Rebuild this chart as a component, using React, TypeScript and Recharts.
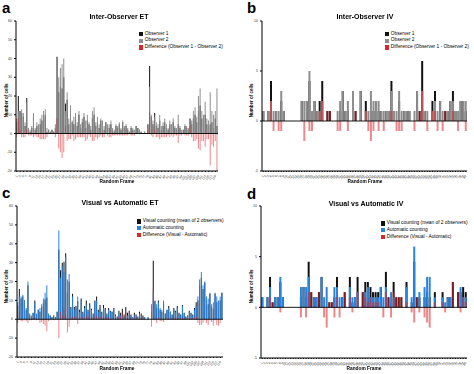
import { BarChart, Bar, XAxis, YAxis, ReferenceLine } from 'recharts'
import type { ReactNode } from 'react'

// ET panels: 120 random frames, IV panels: 80 random frames
const ET_FRAMES = Array.from({ length: 120 }, (_, i) => String(i + 1))
const IV_FRAMES = Array.from({ length: 80 }, (_, i) => String(i + 1))

const ET_TICKS = [-20, -10, 0, 10, 20, 30, 40, 50, 60]
const IV_TICKS = [-5, 0, 5, 10]

// a — Inter-Observer ET
const ET_OBS1 = [
  6, 20, 12, 11, 9, 4, 19, 2, 1, 3, 9, 2, 4, 3, 5, 7, 9, 10, 1, 2,
  1, 2, 1, 3, 41, 22, 25, 24, 30, 16, 18, 5, 12, 6, 5, 8, 4, 10, 3, 6,
  9, 3, 7, 5, 2, 8, 10, 4, 6, 3, 7, 5, 2, 6, 4, 3, 5, 2, 1, 4,
  3, 5, 2, 6, 3, 4, 2, 1, 3, 2, 1, 4, 3, 2, 1, 0, 1, 0, 5, 36,
  9, 5, 11, 4, 3, 7, 2, 4, 6, 3, 2, 5, 4, 6, 3, 2, 5, 3, 1, 2,
  4, 3, 2, 8, 5, 8, 10, 6, 12, 15, 8, 6, 10, 5, 4, 5, 6, 3, 8, 4,
]
const ET_OBS2 = [
  8, 12, 10, 13, 11, 6, 17, 3, 2, 4, 11, 3, 6, 5, 8, 10, 12, 13, 3, 2,
  1, 2, 1, 5, 33, 30, 35, 37, 40, 12, 22, 8, 15, 7, 9, 11, 6, 12, 5, 8,
  11, 7, 10, 6, 4, 12, 14, 6, 9, 5, 8, 7, 4, 6, 5, 5, 7, 3, 2, 5,
  4, 6, 3, 7, 4, 5, 3, 1, 4, 3, 2, 4, 3, 2, 1, 0, 1, 0, 3, 25,
  10, 7, 9, 6, 5, 10, 4, 6, 8, 5, 3, 7, 5, 8, 4, 3, 10, 4, 2, 2,
  5, 4, 3, 4, 7, 12, 14, 9, 20, 24, 12, 10, 17, 8, 7, 22, 12, 10, 12, 24,
]
const ET_DIFF = [
  -2, 8, 2, -2, -2, -2, 2, -1, -1, -1, -2, -1, -2, -2, -3, -3, -3, -3, -2, 0,
  0, 0, 0, -2, 8, -8, -10, -13, -10, 4, -4, -3, -3, -1, -4, -3, -2, -2, -2, -2,
  -2, -4, -3, -1, -2, -4, -4, -2, -3, -2, -1, -2, -2, 0, -1, -2, -2, -1, -1, -1,
  -1, -1, -1, -1, -1, -1, -1, 0, -1, -1, -1, 0, 0, 0, 0, 0, 0, 0, 2, 11,
  -1, -2, 2, -2, -2, -3, -2, -2, -2, -2, -1, -2, -1, -2, -1, -1, -5, -1, -1, 0,
  -1, -1, -1, 4, -2, -4, -4, -3, -8, -9, -4, -4, -7, -3, -3, -17, -6, -7, -4, -20,
]

// b — Inter-Observer IV
const IV_OBS1 = [
  1, 0, 1, 4, 0, 1, 0, 2, 1, 0, 0, 0, 0, 0, 0, 2, 0, 2, 4, 0,
  2, 1, 2, 4, 0, 1, 1, 0, 0, 0, 1, 3, 1, 1, 0, 3, 1, 0, 3, 0,
  2, 0, 1, 1, 2, 1, 1, 0, 1, 1, 4, 1, 0, 2, 0, 1, 1, 1, 0, 0,
  3, 1, 6, 1, 0, 0, 2, 3, 0, 2, 0, 1, 1, 2, 3, 1, 0, 2, 2, 1,
]
const IV_OBS2 = [
  1, 0, 1, 2, 1, 1, 1, 3, 1, 0, 0, 0, 0, 0, 0, 2, 2, 2, 5, 1,
  2, 1, 1, 2, 0, 0, 0, 0, 0, 1, 2, 3, 1, 2, 0, 3, 0, 0, 3, 0,
  1, 1, 3, 2, 2, 2, 1, 1, 1, 1, 3, 1, 1, 3, 1, 1, 1, 1, 0, 1,
  3, 0, 3, 1, 1, 0, 1, 2, 1, 2, 1, 0, 1, 2, 2, 1, 1, 2, 2, 2,
]
const IV_DIFF = [
  0, 0, 0, 2, -1, 0, -1, -1, 0, 0, 0, 0, 0, 0, 0, 0, -2, 0, -1, -1,
  0, 0, 1, 2, 0, 1, 1, 0, 0, -1, -1, 0, 0, -1, 0, 0, 1, 0, 0, 0,
  1, -1, -2, -1, 0, -1, 0, -1, 0, 0, 1, 0, -1, -1, -1, 0, 0, 0, 0, -1,
  0, 1, 3, 0, -1, 0, 1, 1, -1, 0, -1, 1, 0, 0, 1, 0, -1, 0, 0, -1,
]

// c — Visual vs Automatic ET
const ET_VISUAL = [
  7, 16, 11, 12, 10, 5, 18, 2.5, 1.5, 3.5, 10, 2.5, 5, 4, 6.5, 8.5, 10.5, 11.5, 2, 2,
  1, 2, 1, 4, 37, 26, 30, 30.5, 35, 14, 20, 6.5, 13.5, 6.5, 7, 9.5, 5, 11, 4, 7,
  10, 5, 8.5, 5.5, 3, 10, 12, 5, 7.5, 4, 7.5, 6, 3, 6, 4.5, 4, 6, 2.5, 1.5, 4.5,
  3.5, 5.5, 2.5, 6.5, 3.5, 4.5, 2.5, 1, 3.5, 2.5, 1.5, 4, 3, 2, 1, 0, 1, 0, 4, 31,
  9.5, 6, 10, 5, 4, 8.5, 3, 5, 7, 4, 2.5, 6, 4.5, 7, 3.5, 2.5, 7.5, 3.5, 1.5, 2,
  4.5, 3.5, 2.5, 6, 9, 10, 18, 22, 16, 19.5, 10, 8, 13.5, 6.5, 5.5, 13.5, 9, 6.5, 10, 14,
]
const ET_AUTO = [
  9, 12, 12, 13, 10, 6, 20, 3, 2, 3, 9, 3, 5, 6, 8, 11, 14, 18, 3, 2,
  1, 2, 1, 4, 47, 22, 28, 25, 33, 21, 24, 6, 12, 5, 6, 12, 4, 10, 3, 6,
  8, 4, 7, 5, 2, 9, 10, 4, 6, 3, 6, 5, 2, 5, 4, 4, 6, 2, 1, 3,
  2, 2, 1, 2, 2, 3, 2, 1, 2, 2, 1, 3, 2, 1, 1, 0, 1, 0, 8, 14,
  10, 8, 9, 6, 5, 10, 3, 5, 6, 4, 2, 5, 4, 6, 3, 2, 7, 3, 1, 2,
  4, 3, 2, 5, 7, 12, 21, 25, 18, 20, 12, 11, 14, 8, 9, 14, 12, 10, 12, 14,
]
const ET_VDIFF = [
  -2, 4, -1, -1, 0, -1, -2, -0.5, -0.5, 0.5, 1, -0.5, 0, -2, -1.5, -2.5, -3.5, -6.5, -1, 0,
  0, 0, 0, 0, -10, 4, 2, 5.5, 2, -7, -4, 0.5, 1.5, 1.5, 1, -2.5, 1, 1, 1, 1,
  2, 1, 1.5, 0.5, 1, 1, 2, 1, 1.5, 1, 1.5, 1, 1, 1, 0.5, 0, 0, 0.5, 0.5, 1.5,
  1.5, 3.5, 1.5, 4.5, 1.5, 1.5, 0.5, 0, 1.5, 0.5, 0.5, 1, 1, 1, 0, 0, 0, 0, -4, 17,
  -0.5, -2, 1, -1, -1, -1.5, 0, 0, 1, 0, 0.5, 1, 0.5, 1, 0.5, 0.5, 0.5, 0.5, 0.5, 0,
  0.5, 0.5, 0.5, 1, 2, -2, -3, -3, -2, -0.5, -2, -3, -0.5, -1.5, -3.5, -0.5, -3, -3.5, -2, 0,
]

// d — Visual vs Automatic IV
const IV_VISUAL = [
  1, 0, 1, 3, 0.5, 1, 1, 2.5, 1, 0, 0, 0, 0, 0, 0, 1, 2, 1, 4.5, 1.5,
  1, 1, 1.5, 3, 0, 0, 0.5, 0.5, 1, 3, 0, 1, 1.5, 0, 3, 0.5, 1, 3, 0, 1.5,
  2.5, 2.5, 2, 1.5, 1.5, 1.5, 2, 0, 3.5, 1, 0.5, 2.5, 1, 1, 1, 0, 2.5, 0, 0.5, 4.5,
  1, 1, 0, 1, 1.5, 1, 0, 1.5, 0, 0, 1.5, 0, 1, 1, 2.5, 0, 1.5, 1.5, 2, 1.5,
]
const IV_AUTO = [
  1, 0, 1, 2, 0, 1, 1, 3, 1, 0, 0, 0, 0, 0, 0, 2, 2, 2, 3, 0,
  1, 1, 0, 3, 1, 2, 0, 0, 2, 2, 1, 1, 0, 0, 2, 1, 1, 1.5, 0, 0,
  1.5, 2, 1, 1, 1, 1, 2, 1, 2, 0, 1.5, 1, 0, 0, 0, 0, 2, 0, 1, 6,
  0, 1.5, 0, 2, 3, 3, 0, 1, 0, 0, 1, 0.5, 1, 1, 0, 0, 0, 2, 1, 1,
]
const IV_VDIFF = [
  0, 0, 0, 1, 0.5, 0, 0, -0.5, 0, 0, 0, 0, 0, 0, 0, -1, 0, -1, 1.5, 1.5,
  0, 0, 1.5, 0, -1, -2, 0.5, 0.5, -1, 1, -1, 0, 1.5, 0, 1, -0.5, 0, 1.5, 0, 1.5,
  1, 0.5, 1, 0.5, 0.5, 0.5, 0, -1, 1.5, 1, -1, 1.5, 1, 1, 1, 0, 0.5, 0, -0.5, -1.5,
  1, -0.5, 0, -1, -1.5, -2, 0, 0.5, 0, 0, 0.5, -0.5, 0, 0, 2.5, 0, 1.5, -0.5, 1, 0.5,
]

const BLACK = '#111111'
const GREY = '#8e8e8e'
const RED = '#d8262b'
const BLUE = '#2a84e0'
const FONT = '"Liberation Sans", Arial, sans-serif'

// slanted frame numbers under the x axis
function FrameTick({ x, y, payload }: { x?: number; y?: number; payload?: { value: string } }) {
  const tx = x ?? 0
  const ty = (y ?? 0) + 1.5
  return (
    <text x={tx} y={ty} transform={`rotate(-60 ${tx} ${ty})`} fontSize={3.2} textAnchor="end"
      dominantBaseline="middle" fill="#222" fontFamily={FONT}>
      {payload?.value}
    </text>
  )
}

interface PanelProps {
  frames: string[]
  back: number[]
  front: number[]
  diff: number[]
  backColor: string
  frontColor: string
  domain: [number, number]
  ticks: number[]
  plot: { x: number; y: number; w: number; h: number }
  tickInterval: number
  gap: string
}

function Panel({ frames, back, front, diff, backColor, frontColor, domain, ticks, plot, tickInterval, gap }: PanelProps) {
  const data = frames.map((f, i) => ({ frame: f, back: back[i], front: front[i], diff: diff[i] }))
  const YW = 12
  const XH = 12
  const TOP = 3
  const RIGHT = 2
  return (
    <div style={{ position: 'absolute', left: plot.x - YW, top: plot.y - TOP }}>
      <BarChart
        width={plot.w + YW + RIGHT}
        height={plot.h + TOP + XH}
        data={data}
        margin={{ top: TOP, right: RIGHT, bottom: 0, left: 0 }}
        barCategoryGap={gap}
      >
        <XAxis
          xAxisId="xa"
          dataKey="frame"
          interval={tickInterval}
          tick={<FrameTick />}
          tickSize={1}
          stroke="#000"
          height={XH}
        />
        <XAxis xAxisId="xb" dataKey="frame" hide height={0} />
        <XAxis xAxisId="xc" dataKey="frame" hide height={0} />
        <YAxis
          domain={domain}
          ticks={ticks}
          interval={0}
          width={YW}
          tick={{ fontSize: 3.5, fill: '#333' }}
          tickSize={2}
          stroke="#000"
          allowDataOverflow
        />
        <Bar xAxisId="xa" dataKey="back" fill={backColor} isAnimationActive={false} />
        <Bar xAxisId="xb" dataKey="front" fill={frontColor} isAnimationActive={false} />
        <Bar xAxisId="xc" dataKey="diff" fill={RED} fillOpacity={0.55} isAnimationActive={false} />
        <ReferenceLine xAxisId="xa" y={0} stroke="#000" strokeWidth={0.9} />
      </BarChart>
    </div>
  )
}

function Txt({ x, y, size, weight = 400, children }: {
  x: number; y: number; size: number; weight?: number; children: ReactNode
}) {
  return (
    <div
      style={{
        position: 'absolute', left: x - 100, top: Math.round(y - size / 2), width: 200, textAlign: 'center',
        fontSize: size, fontWeight: weight, lineHeight: 1, whiteSpace: 'nowrap', color: '#000',
        willChange: 'transform',
      }}
    >
      {children}
    </div>
  )
}

function VTxt({ x, y, size, children }: { x: number; y: number; size: number; children: ReactNode }) {
  return (
    <div
      style={{
        position: 'absolute', left: x - 40, top: y - size / 2, width: 80, textAlign: 'center',
        fontSize: size, fontWeight: 700, lineHeight: 1, whiteSpace: 'nowrap', color: '#000',
        transform: 'rotate(-90deg)',
      }}
    >
      {children}
    </div>
  )
}

function LegendBox({ x, y, items }: { x: number; y: number; items: { label: string; color: string }[] }) {
  return (
    <div style={{ position: 'absolute', left: x, top: y, color: '#000' }}>
      {items.map(it => (
        <div key={it.label} style={{ display: 'flex', alignItems: 'center', height: 6.8, fontSize: 4.8, lineHeight: 1, whiteSpace: 'nowrap' }}>
          <span style={{ display: 'inline-block', width: 4.4, height: 4.4, background: it.color, marginRight: 1.4 }} />
          <span>{it.label}</span>
        </div>
      ))}
    </div>
  )
}

const OBS_LEGEND = [
  { label: 'Observer 1', color: BLACK },
  { label: 'Observer 2', color: GREY },
  { label: 'Difference (Observer 1 - Observer 2)', color: RED },
]
const VA_LEGEND = [
  { label: 'Visual counting (mean of 2 observers)', color: BLACK },
  { label: 'Automatic counting', color: BLUE },
  { label: 'Difference (Visual - Automatic)', color: RED },
]

const LETTER = { position: 'absolute' as const, fontSize: 15, fontWeight: 700, lineHeight: 1, color: '#000' }

export default function App() {
  return (
    <div style={{ position: 'absolute', left: 0, top: 0, width: 474, height: 374, background: '#fff', fontFamily: FONT, color: '#000', overflow: 'hidden' }}>
      <Panel frames={ET_FRAMES} back={ET_OBS1} front={ET_OBS2} diff={ET_DIFF} backColor={BLACK} frontColor={GREY}
        domain={[-20, 60]} ticks={ET_TICKS} plot={{ x: 16, y: 21, w: 202, h: 150 }} tickInterval={1} gap="8%" />
      <Panel frames={IV_FRAMES} back={IV_OBS1} front={IV_OBS2} diff={IV_DIFF} backColor={BLACK} frontColor={GREY}
        domain={[-5, 10]} ticks={IV_TICKS} plot={{ x: 262, y: 21, w: 205, h: 150 }} tickInterval={0} gap="12%" />
      <Panel frames={ET_FRAMES} back={ET_VISUAL} front={ET_AUTO} diff={ET_VDIFF} backColor={BLACK} frontColor={BLUE}
        domain={[-20, 60]} ticks={ET_TICKS} plot={{ x: 17, y: 206, w: 206, h: 151 }} tickInterval={1} gap="8%" />
      <Panel frames={IV_FRAMES} back={IV_VISUAL} front={IV_AUTO} diff={IV_VDIFF} backColor={BLACK} frontColor={BLUE}
        domain={[-5, 10]} ticks={IV_TICKS} plot={{ x: 261, y: 206, w: 206, h: 152 }} tickInterval={0} gap="12%" />

      <div style={{ ...LETTER, left: 2, top: 0 }}>a</div>
      <div style={{ ...LETTER, left: 247, top: 0 }}>b</div>
      <div style={{ ...LETTER, left: 2, top: 185 }}>c</div>
      <div style={{ ...LETTER, left: 247, top: 186 }}>d</div>

      <Txt x={119} y={16} size={7} weight={700}>Inter-Observer ET</Txt>
      <Txt x={365} y={16} size={7} weight={700}>Inter-Observer IV</Txt>
      <Txt x={120} y={202.5} size={7} weight={700}>Visual vs Automatic ET</Txt>
      <Txt x={366} y={203} size={7} weight={700}>Visual vs Automatic IV</Txt>

      <VTxt x={7} y={100} size={4.5}>Number of cells</VTxt>
      <VTxt x={252} y={100} size={4.5}>Number of cells</VTxt>
      <VTxt x={7} y={286} size={4.5}>Number of cells</VTxt>
      <VTxt x={252} y={286} size={4.5}>Number of cells</VTxt>

      <Txt x={117} y={182.5} size={4.8} weight={700}>Random Frame</Txt>
      <Txt x={365} y={182.5} size={4.8} weight={700}>Random Frame</Txt>
      <Txt x={117} y={369.5} size={4.8} weight={700}>Random Frame</Txt>
      <Txt x={364} y={369.5} size={4.8} weight={700}>Random Frame</Txt>

      <LegendBox x={139} y={30.5} items={OBS_LEGEND} />
      <LegendBox x={385} y={30.5} items={OBS_LEGEND} />
      <LegendBox x={137} y={218} items={VA_LEGEND} />
      <LegendBox x={381} y={220} items={VA_LEGEND} />
    </div>
  )
}
